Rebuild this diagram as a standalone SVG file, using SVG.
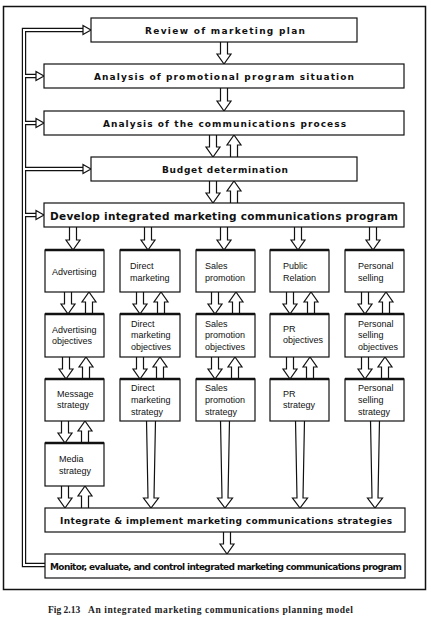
<svg xmlns="http://www.w3.org/2000/svg" xmlns:xlink="http://www.w3.org/1999/xlink" width="431" height="623" viewBox="0 0 431 623">
<style>
.box{fill:#fff;stroke:#111;stroke-width:1.2}
.top{stroke:#111;stroke-width:2.6}
.arr{fill:#fff;stroke:#111;stroke-width:1.2;stroke-linejoin:miter}
.h{font-family:"DejaVu Sans","Liberation Sans",sans-serif;font-weight:bold;font-size:9px;fill:#111}
.t{font-family:"Liberation Sans",Arial,sans-serif;font-size:9px;fill:#111}
.fbk{fill:none;stroke:#111;stroke-width:4.4}
.fbw{fill:none;stroke:#fff;stroke-width:2}
.cap{font-family:"Liberation Serif","Times New Roman",serif;font-weight:bold;font-size:9.5px;fill:#222}
</style>
<defs>
<path id="dn22" d="M-3.5,-1 V12 H-7 L0,22 L7,12 H3.5 V-1"/>
<path id="dn23" d="M-3.5,-1 V13 H-7 L0,23 L7,13 H3.5 V-1"/>
<path id="up22" d="M-3.5,1 V-12 H-7 L0,-22 L7,-12 H3.5 V1"/>
<path id="dnL" d="M-4.5,-1 L-3,77 H-7.5 L0,87 L7.5,77 H3 L4.5,-1"/>
<path id="fh" d="M-8,-4.5 L0,0 L-8,4.5 Z"/>
</defs>
<rect x="3.5" y="6.5" width="422" height="583" fill="#fff" stroke="#111" stroke-width="1.5"/>

<g id="connectors">
<g id="feedback">
<path class="fbk" d="M45,565 H24 V30 H84 M24,76 H37 M24,123 H37 M24,169 H84 M24,215 H37"/>
<path class="fbw" d="M45,565 H24 V30 H84 M24,76 H37 M24,123 H37 M24,169 H84 M24,215 H37"/>
<use href="#fh" x="91" y="30" class="arr"/>
<use href="#fh" x="44" y="76" class="arr"/>
<use href="#fh" x="44" y="123" class="arr"/>
<use href="#fh" x="91" y="169" class="arr"/>
<use href="#fh" x="44" y="215" class="arr"/>
</g>
<g class="arr">
<use href="#dn22" x="224" y="42"/>
<use href="#dn23" x="224" y="88"/>
<use href="#dn22" x="213" y="135"/>
<use href="#up22" x="234" y="157"/>
<use href="#dn22" x="213" y="181"/>
<use href="#up22" x="234" y="203"/>
<use href="#dn23" x="73" y="227"/>
<use href="#dn23" x="148" y="227"/>
<use href="#dn23" x="224" y="227"/>
<use href="#dn23" x="298" y="227"/>
<use href="#dn23" x="373" y="227"/>
<use href="#dn22" x="68" y="292"/>
<use href="#up22" x="89" y="314"/>
<use href="#dn22" x="140" y="292"/>
<use href="#up22" x="161" y="314"/>
<use href="#dn22" x="215" y="292"/>
<use href="#up22" x="236" y="314"/>
<use href="#dn22" x="290" y="292"/>
<use href="#up22" x="311" y="314"/>
<use href="#dn22" x="365" y="292"/>
<use href="#up22" x="386" y="314"/>
<use href="#dn22" x="66" y="357"/>
<use href="#up22" x="86" y="379"/>
<use href="#dn22" x="140" y="357"/>
<use href="#up22" x="160" y="379"/>
<use href="#dn22" x="215" y="357"/>
<use href="#up22" x="235" y="379"/>
<use href="#dn22" x="290" y="357"/>
<use href="#up22" x="310" y="379"/>
<use href="#dn22" x="365" y="357"/>
<use href="#up22" x="385" y="379"/>
<use href="#dn22" x="65" y="421"/>
<use href="#up22" x="85" y="443"/>
<use href="#dn22" x="65" y="486"/>
<use href="#up22" x="85" y="508"/>
<use href="#dnL" x="151" y="421"/>
<use href="#dnL" x="225" y="421"/>
<use href="#dnL" x="300" y="421"/>
<use href="#dnL" x="375" y="421"/>
<use href="#dn22" x="227" y="532"/>
</g>
</g>

<g id="review"><rect class="box" x="91" y="18" width="266" height="24"/><text class="h" x="145" y="34" textLength="160" lengthAdjust="spacing">Review of marketing plan</text></g>
<g id="promo"><rect class="box" x="44" y="64" width="360" height="24"/><text class="h" x="94" y="80" textLength="260" lengthAdjust="spacing">Analysis of promotional program situation</text></g>
<g id="comm"><rect class="box" x="44" y="111" width="360" height="24"/><text class="h" x="103" y="127" textLength="243" lengthAdjust="spacing">Analysis of the communications process</text></g>
<g id="budget"><rect class="box" x="91" y="157" width="266" height="24"/><text class="h" x="162" y="173" textLength="126" lengthAdjust="spacing">Budget determination</text></g>
<g id="develop"><rect class="box" x="44" y="203" width="360" height="24"/><text class="h" x="50" y="219.5" textLength="348" lengthAdjust="spacing" style="font-size:10.5px">Develop integrated marketing communications program</text></g>

<g id="advertising"><rect class="box" x="45" y="250" width="59" height="42"/><line class="top" x1="45" y1="250" x2="104" y2="250"/><text class="t" x="52" y="274.5">Advertising</text></g>
<g id="direct"><rect class="box" x="120" y="250" width="60" height="42"/><line class="top" x1="120" y1="250" x2="180" y2="250"/><text class="t" x="130" y="268.5">Direct</text><text class="t" x="130" y="280.5">marketing</text></g>
<g id="sales"><rect class="box" x="196" y="250" width="59" height="42"/><line class="top" x1="196" y1="250" x2="255" y2="250"/><text class="t" x="205" y="268.5">Sales</text><text class="t" x="205" y="280.5">promotion</text></g>
<g id="public"><rect class="box" x="270" y="250" width="59" height="42"/><line class="top" x1="270" y1="250" x2="329" y2="250"/><text class="t" x="283" y="268.5">Public</text><text class="t" x="283" y="280.5">Relation</text></g>
<g id="personal"><rect class="box" x="345" y="250" width="59" height="42"/><line class="top" x1="345" y1="250" x2="404" y2="250"/><text class="t" x="358" y="268.5">Personal</text><text class="t" x="358" y="280.5">selling</text></g>

<g id="adobj"><rect class="box" x="45" y="314" width="59" height="43"/><line class="top" x1="45" y1="314" x2="104" y2="314"/><text class="t" x="52" y="332.5">Advertising</text><text class="t" x="52" y="344">objectives</text></g>
<g id="dmobj"><rect class="box" x="120" y="314" width="60" height="43"/><line class="top" x1="120" y1="314" x2="180" y2="314"/><text class="t" x="131" y="326.5">Direct</text><text class="t" x="131" y="338.3">marketing</text><text class="t" x="131" y="350">objectives</text></g>
<g id="spobj"><rect class="box" x="196" y="314" width="59" height="43"/><line class="top" x1="196" y1="314" x2="255" y2="314"/><text class="t" x="205" y="326.5">Sales</text><text class="t" x="205" y="338.3">promotion</text><text class="t" x="205" y="350">objectives</text></g>
<g id="probj"><rect class="box" x="270" y="314" width="59" height="43"/><line class="top" x1="270" y1="314" x2="329" y2="314"/><text class="t" x="283" y="331.6">PR</text><text class="t" x="283" y="343.3">objectives</text></g>
<g id="psobj"><rect class="box" x="345" y="314" width="59" height="43"/><line class="top" x1="345" y1="314" x2="404" y2="314"/><text class="t" x="358" y="326.5">Personal</text><text class="t" x="358" y="338.3">selling</text><text class="t" x="358" y="350">objectives</text></g>

<g id="message"><rect class="box" x="45" y="379" width="59" height="42"/><line class="top" x1="45" y1="379" x2="104" y2="379"/><text class="t" x="57" y="396.6">Message</text><text class="t" x="57" y="408.3">strategy</text></g>
<g id="dmstr"><rect class="box" x="120" y="379" width="60" height="42"/><line class="top" x1="120" y1="379" x2="180" y2="379"/><text class="t" x="131" y="391">Direct</text><text class="t" x="131" y="403">marketing</text><text class="t" x="131" y="414.5">strategy</text></g>
<g id="spstr"><rect class="box" x="196" y="379" width="59" height="42"/><line class="top" x1="196" y1="379" x2="255" y2="379"/><text class="t" x="205" y="391">Sales</text><text class="t" x="205" y="403">promotion</text><text class="t" x="205" y="414.5">strategy</text></g>
<g id="prstr"><rect class="box" x="270" y="379" width="59" height="42"/><line class="top" x1="270" y1="379" x2="329" y2="379"/><text class="t" x="283" y="396.6">PR</text><text class="t" x="283" y="408.3">strategy</text></g>
<g id="psstr"><rect class="box" x="345" y="379" width="59" height="42"/><line class="top" x1="345" y1="379" x2="404" y2="379"/><text class="t" x="358" y="391">Personal</text><text class="t" x="358" y="403">selling</text><text class="t" x="358" y="414.5">strategy</text></g>

<g id="media"><rect class="box" x="45" y="443" width="59" height="43"/><line class="top" x1="45" y1="443" x2="104" y2="443"/><text class="t" x="59" y="461.6">Media</text><text class="t" x="59" y="474">strategy</text></g>

<g id="integrate"><rect class="box" x="45" y="508" width="360" height="24"/><text class="h" x="60" y="524" textLength="332" lengthAdjust="spacing">Integrate &amp; implement marketing communications strategies</text></g>
<g id="monitor"><rect class="box" x="45" y="554" width="360" height="24"/><text class="h" x="50" y="569.5" textLength="352" lengthAdjust="spacing">Monitor, evaluate, and control integrated marketing communications program</text></g>

<text class="cap" y="613"><tspan x="48">Fig 2.13</tspan><tspan x="88" textLength="265" lengthAdjust="spacing">An integrated marketing communications planning model</tspan></text>
</svg>
